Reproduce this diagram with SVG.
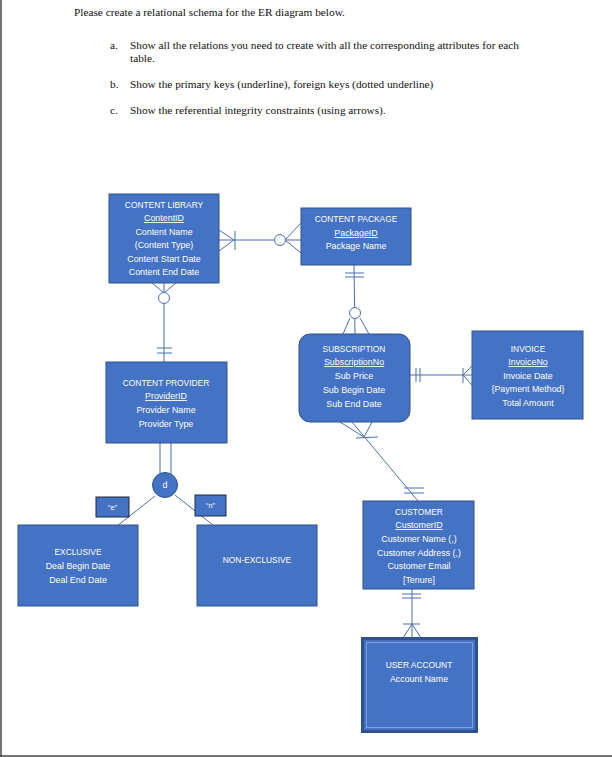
<svg xmlns="http://www.w3.org/2000/svg" width="612" height="757" viewBox="0 0 612 757">
<style>
.q{font-family:"Liberation Serif","Times New Roman",serif;font-size:11.3px;fill:#111}
.e{fill:#4472C4;stroke:#2F528F;stroke-width:1}
.t{font-family:"Liberation Sans",Arial,sans-serif;font-size:8.9px;fill:#fff;text-anchor:middle}
.h{font-size:8.4px}
.u{text-decoration:underline}
.c{fill:none;stroke:#4a6fae;stroke-width:1}
.s{font-family:"Liberation Sans",Arial,sans-serif;font-size:7.5px;fill:#fff;text-anchor:middle}
</style>
<rect x="0" y="0" width="612" height="757" fill="#fff"/>
<line x1="1" y1="0" x2="1" y2="757" stroke="#444" stroke-width="1.5"/>
<line x1="0" y1="756" x2="612" y2="756" stroke="#444" stroke-width="1.5"/>
<g id="question">
<text class="q" x="74" y="16">Please create a relational schema for the ER diagram below.</text>
<text class="q" x="110" y="49">a.</text>
<text class="q" x="130" y="49">Show all the relations you need to create with all the corresponding attributes for each</text>
<text class="q" x="130" y="62">table.</text>
<text class="q" x="110" y="88">b.</text>
<text class="q" x="130" y="88">Show the primary keys (underline), foreign keys (dotted underline)</text>
<text class="q" x="110" y="114">c.</text>
<text class="q" x="130" y="114">Show the referential integrity constraints (using arrows).</text>
</g>
<g id="connectors">
<line class="c" x1="219" y1="240" x2="301" y2="240"/>
<polyline class="c" points="219,230 234,240 219,251"/>
<line class="c" x1="235" y1="231" x2="235" y2="250"/>
<circle cx="280" cy="240" r="5.5" fill="#fff" stroke="#4a6fae"/>
<polyline class="c" points="301,223 285,240 301,253"/>
<line class="c" x1="354" y1="265" x2="355" y2="334"/>
<line class="c" x1="345" y1="273" x2="364" y2="273"/>
<line class="c" x1="345" y1="277" x2="364" y2="277"/>
<circle cx="355" cy="313" r="5.5" fill="#fff" stroke="#4a6fae"/>
<line class="c" x1="350" y1="318" x2="343" y2="334"/>
<line class="c" x1="360" y1="318" x2="369" y2="334"/>
<line class="c" x1="410" y1="375" x2="472" y2="375"/>
<line class="c" x1="416" y1="368" x2="416" y2="382"/>
<line class="c" x1="420" y1="368" x2="420" y2="382"/>
<polyline class="c" points="472,366 463,375 472,385"/>
<line class="c" x1="463" y1="368" x2="463" y2="383"/>
<line class="c" x1="164" y1="283" x2="164" y2="362"/>
<polyline class="c" points="152,283 164,293 176,283"/>
<circle cx="164" cy="298" r="5.5" fill="#fff" stroke="#4a6fae"/>
<line class="c" x1="157" y1="348" x2="172" y2="348"/>
<line class="c" x1="157" y1="353" x2="172" y2="353"/>
<line class="c" x1="160" y1="443" x2="160" y2="474"/>
<line class="c" x1="171" y1="443" x2="171" y2="474"/>
<line class="c" x1="155" y1="496" x2="117" y2="526"/>
<line class="c" x1="175" y1="495" x2="213" y2="525"/>
<line class="c" x1="352" y1="422" x2="418" y2="501"/>
<polyline class="c" points="340,422 364,437 372,422"/>
<line class="c" x1="356" y1="438" x2="378" y2="437"/>
<line class="c" x1="404" y1="488" x2="424" y2="488"/>
<line class="c" x1="404" y1="493" x2="424" y2="493"/>
<line class="c" x1="412" y1="589" x2="412" y2="638"/>
<line class="c" x1="402" y1="594" x2="421" y2="594"/>
<line class="c" x1="402" y1="598" x2="421" y2="598"/>
<polyline class="c" points="403,638 412,624 421,638"/>
<line class="c" x1="403" y1="624" x2="420" y2="624"/>
</g>
<g id="content-library">
<rect class="e" x="109" y="194" width="110" height="89"/>
<text class="t h" x="164" y="208">CONTENT LIBRARY</text>
<text class="t u" x="164" y="221">ContentID</text>
<text class="t" x="164" y="235">Content Name</text>
<text class="t" x="164" y="248">(Content Type)</text>
<text class="t" x="164" y="262">Content Start Date</text>
<text class="t" x="164" y="275">Content End Date</text>
</g>
<g id="content-package">
<rect class="e" x="301" y="208" width="110" height="57"/>
<text class="t h" x="356" y="222">CONTENT PACKAGE</text>
<text class="t u" x="356" y="236">PackageID</text>
<text class="t" x="356" y="249">Package Name</text>
</g>
<g id="subscription">
<rect class="e" x="299" y="334" width="111" height="88" rx="11"/>
<text class="t h" x="354" y="352">SUBSCRIPTION</text>
<text class="t u" x="354" y="365">SubscriptionNo</text>
<text class="t" x="354" y="379">Sub Price</text>
<text class="t" x="354" y="393">Sub Begin Date</text>
<text class="t" x="354" y="407">Sub End Date</text>
</g>
<g id="invoice">
<rect class="e" x="472" y="331" width="111" height="88"/>
<text class="t h" x="528" y="352">INVOICE</text>
<text class="t u" x="528" y="365">InvoiceNo</text>
<text class="t" x="528" y="379">Invoice Date</text>
<text class="t" x="528" y="392">{Payment Method}</text>
<text class="t" x="528" y="406">Total Amount</text>
</g>
<g id="content-provider">
<rect class="e" x="106" y="362" width="121" height="81"/>
<text class="t h" x="166" y="386">CONTENT PROVIDER</text>
<text class="t u" x="166" y="399">ProviderID</text>
<text class="t" x="166" y="413">Provider Name</text>
<text class="t" x="166" y="427">Provider Type</text>
</g>
<g id="disjoint">
<circle cx="165" cy="485" r="12.5" class="e"/>
<text class="t" x="165" y="488">d</text>
</g>
<g id="label-e">
<rect x="96" y="497" width="33" height="20" fill="#4472C4" stroke="#1f2a44" stroke-width="1"/>
<text class="s" x="112.5" y="510">“e”</text>
</g>
<g id="label-n">
<rect x="195" y="495" width="31" height="21" fill="#4472C4" stroke="#1f2a44" stroke-width="1"/>
<text class="s" x="210.5" y="508">“n”</text>
</g>
<g id="exclusive">
<rect class="e" x="18" y="525" width="120" height="81"/>
<text class="t h" x="78" y="555">EXCLUSIVE</text>
<text class="t" x="78" y="569">Deal Begin Date</text>
<text class="t" x="78" y="583">Deal End Date</text>
</g>
<g id="non-exclusive">
<rect class="e" x="197" y="525" width="120" height="81"/>
<text class="t h" x="257" y="563">NON-EXCLUSIVE</text>
</g>
<g id="customer">
<rect class="e" x="363" y="501" width="111" height="88"/>
<text class="t h" x="419" y="515">CUSTOMER</text>
<text class="t u" x="419" y="528">CustomerID</text>
<text class="t" x="419" y="542">Customer Name (,)</text>
<text class="t" x="419" y="556">Customer Address (,)</text>
<text class="t" x="419" y="569">Customer Email</text>
<text class="t" x="419" y="583">[Tenure]</text>
</g>
<g id="user-account">
<rect x="362.5" y="638.5" width="114" height="93" fill="#4472C4" stroke="#2F528F" stroke-width="3"/>
<rect x="366.5" y="642.5" width="106" height="85" fill="none" stroke="#8fa9dc" stroke-width="0.8"/>
<text class="t h" x="419" y="668">USER ACCOUNT</text>
<text class="t" x="419" y="682">Account Name</text>
</g>
</svg>
